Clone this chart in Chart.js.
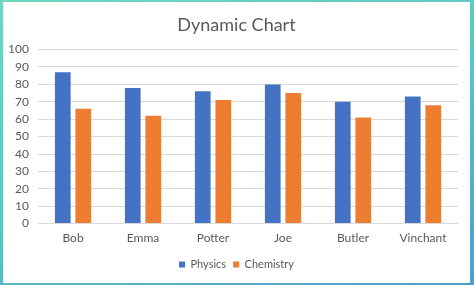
<!DOCTYPE html>
<html>
<head>
<meta charset="utf-8">
<script src="https://cdn.jsdelivr.net/npm/chart.js@4"></script>
<style>
html,body{margin:0;padding:0;}
#wrap{position:absolute;left:0;top:0;width:474px;height:285px;background:linear-gradient(160deg,#6fd6c0 0%,#5cc4c4 50%,#4f9ccc 100%);}
#box{position:absolute;left:3px;top:2px;width:467px;height:281px;background:#fff;}
canvas{display:block;}
</style>
</head>
<body>
<div id="wrap"><div id="box"><canvas id="c" width="467" height="281"></canvas></div></div>
<script>
const categories = ["Bob","Emma","Potter","Joe","Butler","Vinchant"];
const physics = [87,78,76,80,70,73];
const chemistry = [66,62,71,75,61,68];
const seriesNames = ["Physics","Chemistry"];
const yTicks = [0,10,20,30,40,50,60,70,80,90,100];

const font = "Lato, 'Open Sans', sans-serif";
new Chart(document.getElementById('c'), {
  type: 'bar',
  data: {
    labels: categories,
    datasets: [
      {label: seriesNames[0], data: physics, backgroundColor: '#4472C4', categoryPercentage: 0.586, barPercentage: 0.766},
      {label: seriesNames[1], data: chemistry, backgroundColor: '#ED7D31', categoryPercentage: 0.586, barPercentage: 0.766}
    ]
  },
  options: {
    responsive: false,
    animation: false,
    layout: {padding: {left: 0, right: 0, top: 0, bottom: 3}},
    plugins: {
      title: {display: true, text: 'Dynamic Chart', color: '#595959', font: {family: font, size: 18, weight: 'normal'}, padding: {top: 12, bottom: 14}},
      legend: {position: 'bottom', labels: {boxWidth: 6, boxHeight: 6, color: '#595959', font: {family: font, size: 11}, padding: 7}},
      tooltip: {enabled: false}
    },
    scales: {
      x: {
        grid: {display: false, drawTicks: false},
        border: {color: '#d9d9d9'},
        ticks: {color: '#595959', font: {family: font, size: 12}, padding: 7}
      },
      y: {
        min: 0, max: 100,
        afterBuildTicks: (s) => { s.ticks = yTicks.map(v => ({value: v})); },
        afterFit: (s) => { s.width = 35; },
        grid: {color: '#d9d9d9', drawTicks: false},
        border: {display: false},
        ticks: {color: '#595959', font: {family: font, size: 12}, padding: 9, autoSkip: false}
      },
      yRight: {
        position: 'right',
        min: 0, max: 100,
        afterFit: (s) => { s.width = 12; },
        grid: {display: false, drawTicks: false},
        border: {display: false},
        ticks: {display: false}
      }
    }
  }
});
</script>
</body>
</html>
